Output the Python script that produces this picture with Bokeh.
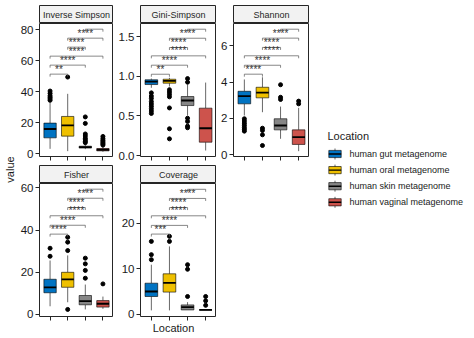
import numpy as np
from bokeh.plotting import figure
from bokeh.layouts import row, column
from bokeh.models import Range1d, FixedTicker, ColumnDataSource
from bokeh.core.properties import value
from bokeh.embed import file_html
from bokeh.resources import INLINE

# ---------------- data ----------------
locations = ["human gut metagenome", "human oral metagenome",
             "human skin metagenome", "human vaginal metagenome"]
colors = ["#0073C2", "#EFC000", "#868686", "#CD534C"]
comparisons = [(0, 1), (0, 2), (0, 3), (1, 2), (1, 3), (2, 3)]

# Inverse Simpson
inv_q1 = [10.3, 11.4, 3.7, 1.9]
inv_med = [16.0, 18.3, 4.3, 2.6]
inv_q3 = [19.8, 24.1, 4.9, 3.4]
inv_lo = [3.2, 1.7, 3.0, 1.3]
inv_hi = [33.0, 38.7, 6.5, 4.9]
inv_out = [[34.5, 35.5, 36.5, 37.5, 39.0, 40.5], [49.5],
           [7.2, 8.0, 9.0, 10.0, 11.5, 12.8, 19.6, 23.8],
           [5.6, 6.3, 7.0, 7.8, 8.7, 9.8, 11.2]]
inv_brk = [51.4, 57.2, 63.0, 68.8, 74.6, 80.4]
inv_sig = ["**", "****", "****", "****", "****", "****"]
inv_ticks = [0, 20, 40, 60, 80]
inv_labels = ["0", "20", "40", "60", "80"]

# Gini-Simpson
gini_q1 = [0.895, 0.912, 0.630, 0.168]
gini_med = [0.933, 0.942, 0.694, 0.344]
gini_q3 = [0.955, 0.962, 0.744, 0.597]
gini_lo = [0.854, 0.870, 0.504, 0.063]
gini_hi = [0.971, 0.980, 0.895, 0.920]
gini_out = [[0.53, 0.56, 0.59, 0.62, 0.65, 0.68, 0.72, 0.75, 0.79],
            [0.21, 0.337, 0.60, 0.74, 0.77, 0.80, 0.83],
            [0.35, 0.37, 0.43, 0.47, 0.925, 0.97], []]
gini_brk = [1.025, 1.139, 1.257, 1.362, 1.479, 1.593]
gini_sig = ["**", "****", "****", "****", "****", "****"]
gini_ticks = [0.0, 0.5, 1.0, 1.5]
gini_labels = ["0.0", "0.5", "1.0", "1.5"]

# Shannon
sh_q1 = [2.80, 3.13, 1.37, 0.57]
sh_med = [3.22, 3.42, 1.61, 0.97]
sh_q3 = [3.49, 3.71, 1.98, 1.37]
sh_lo = [2.16, 2.34, 0.88, 0.20]
sh_hi = [4.14, 4.26, 2.65, 2.58]
sh_out = [[1.30, 1.40, 1.50, 1.62, 1.74, 1.86, 1.98], [0.51, 1.10, 1.34, 1.46],
          [3.04, 3.16, 3.85], [2.80, 2.95]]
sh_brk = [4.43, 4.92, 5.44, 5.90, 6.41, 6.90]
sh_sig = ["****", "****", "****", "****", "****", "****"]
sh_ticks = [0, 2, 4, 6]
sh_labels = ["0", "2", "4", "6"]

# Fisher
fi_q1 = [10.3, 12.9, 4.6, 3.5]
fi_med = [12.9, 16.6, 6.3, 5.1]
fi_q3 = [16.7, 20.0, 9.0, 6.6]
fi_lo = [3.9, 5.8, 2.4, 2.7]
fi_hi = [25.6, 28.0, 14.2, 8.5]
fi_out = [[27.6, 31.4], [2.4, 30.3, 34.3, 36.6], [17.2, 20.9, 24.0, 26.7], [14.5]]
fi_brk = [38.1, 42.3, 46.8, 50.7, 55.1, 59.4]
fi_sig = ["****", "****", "****", "****", "****", "****"]
fi_ticks = [0, 20, 40, 60]
fi_labels = ["0", "20", "40", "60"]

# Coverage
cov_q1 = [3.94, 4.9, 1.0, 1.0]
cov_med = [5.03, 6.9, 1.6, 1.0]
cov_q3 = [6.85, 8.9, 2.1, 1.0]
cov_lo = [0.9, 0.9, 1.0, 1.0]
cov_hi = [10.9, 14.9, 2.7, 1.0]
cov_out = [[12.0, 13.1, 16.0], [16.0, 17.1], [3.94, 9.9, 10.9], [2.0, 3.0, 3.94]]
cov_brk = [17.6, 19.5, 21.6, 23.4, 25.4, 27.4]
cov_sig = ["***", "****", "****", "****", "****", "****"]
cov_ticks = [0, 10, 20]
cov_labels = ["0", "10", "20"]

# ---------------- style / layout ----------------
FONT = value("Liberation Sans")
FRAME_W = 76
FRAME_H = 133
STRIP_H = 18
DARK = "#262626"
SIG_LIFT = 5      # px between bracket line and label baseline
SIG_TEXT_H = 9    # px visual height above baseline needed for a label


def make_strip(title, left, top):
    s = figure(width=left + FRAME_W, height=STRIP_H + top,
               x_range=Range1d(0, 1), y_range=Range1d(0, 1),
               x_axis_type=None, y_axis_type=None,
               output_backend="svg", toolbar_location=None,
               min_border_left=left, min_border_right=0,
               min_border_top=top, min_border_bottom=0)
    s.background_fill_color = "#F2F2F2"
    s.border_fill_color = "white"
    s.outline_line_color = DARK
    s.outline_line_width = 1
    s.text(x=[0.5], y=[0.5], text=[title], text_font=FONT,
           text_font_size="9px", text_color=DARK,
           text_align="center", text_baseline="middle")
    return s


def make_panel(q1, med, q3, lo, hi, out, brk, sig, ticks, labels, yr, left, bottom):
    p = figure(width=left + FRAME_W, height=FRAME_H + bottom,
               x_range=Range1d(0.4, 4.6), y_range=Range1d(*yr),
               output_backend="svg", toolbar_location=None,
               min_border_left=left, min_border_right=0,
               min_border_top=0, min_border_bottom=bottom)
    p.grid.visible = False
    p.background_fill_color = "white"
    p.border_fill_color = "white"
    p.outline_line_color = DARK
    p.outline_line_width = 1

    xs = [i + 1 for i in range(len(locations))]
    src = ColumnDataSource(dict(x=xs, q1=q1, med=med, q3=q3, lo=lo, hi=hi,
                                color=colors,
                                x0=[x - 0.35 for x in xs], x1=[x + 0.35 for x in xs]))
    p.segment(x0="x", y0="q3", x1="x", y1="hi", source=src,
              line_color="black", line_width=0.6)
    p.segment(x0="x", y0="q1", x1="x", y1="lo", source=src,
              line_color="black", line_width=0.6)
    p.vbar(x="x", width=0.7, top="q3", bottom="q1", source=src,
           fill_color="color", line_color="black", line_width=0.6)
    p.segment(x0="x0", y0="med", x1="x1", y1="med", source=src,
              line_color="black", line_width=1.8)
    ox = [i + 1 for i, o in enumerate(out) for _ in o]
    oy = [v for o in out for v in o]
    p.scatter(ox, oy, size=4, color="black")

    # significance brackets
    span = yr[1] - yr[0]
    upp = span / FRAME_H          # data units per pixel
    tip = 2.5 * upp
    bx0, by0, bx1, by1 = [], [], [], []
    tx, ty, tt = [], [], []
    for (a, b), y, s in zip(comparisons, brk, sig):
        xa, xb = a + 1, b + 1
        bx0 += [xa, xa, xb]
        by0 += [y, y, y]
        bx1 += [xb, xa, xb]
        by1 += [y, y - tip, y - tip]
        # labels that would fall outside the panel are clipped away (as in the source)
        if y + (SIG_LIFT + SIG_TEXT_H) * upp <= yr[1]:
            tx.append((xa + xb) / 2)
            ty.append(y)
            tt.append(s)
    p.segment(x0=bx0, y0=by0, x1=bx1, y1=by1, line_color="#555555", line_width=0.7)
    p.text(x=tx, y=ty, text=tt, text_font=FONT, text_font_size="10px",
           text_color="#333333", text_align="center", text_baseline="alphabetic",
           y_offset=-SIG_LIFT)

    # axes
    p.xaxis.ticker = FixedTicker(ticks=xs)
    p.xaxis.major_label_overrides = {x: "" for x in xs}
    p.xaxis.major_label_text_font_size = "0px"
    p.xaxis.major_label_standoff = 0
    p.yaxis.ticker = FixedTicker(ticks=ticks)
    p.yaxis.major_label_overrides = {t: l for t, l in zip(ticks, labels)}
    p.yaxis.major_label_text_font_size = "11.5px"
    p.yaxis.major_label_text_font = "Liberation Sans"
    p.yaxis.major_label_text_color = "#1a1a1a"
    p.yaxis.major_label_standoff = 2
    for ax in (p.xaxis, p.yaxis):
        ax.axis_line_color = None
        ax.major_tick_in = 0
        ax.major_tick_out = 4
        ax.major_tick_line_color = DARK
        ax.major_tick_line_width = 1
        ax.minor_tick_line_color = None
    return p


panels = [
    ("Inverse Simpson", inv_q1, inv_med, inv_q3, inv_lo, inv_hi, inv_out, inv_brk, inv_sig,
     inv_ticks, inv_labels, (-1.74, 84.06)),
    ("Gini-Simpson", gini_q1, gini_med, gini_q3, gini_lo, gini_hi, gini_out, gini_brk, gini_sig,
     gini_ticks, gini_labels, (-0.0126, 1.665)),
    ("Shannon", sh_q1, sh_med, sh_q3, sh_lo, sh_hi, sh_out, sh_brk, sh_sig,
     sh_ticks, sh_labels, (-0.093, 7.214)),
    ("Fisher", fi_q1, fi_med, fi_q3, fi_lo, fi_hi, fi_out, fi_brk, fi_sig,
     fi_ticks, fi_labels, (-0.95, 62.09)),
    ("Coverage", cov_q1, cov_med, cov_q3, cov_lo, cov_hi, cov_out, cov_brk, cov_sig,
     cov_ticks, cov_labels, (-0.44, 28.67)),
]
lefts = [20, 27, 17, 20, 27]
strip_tops = [5, 5, 5, 0, 0]
bottoms = [9, 9, 9, 5, 5]

cols = []
for (title, *rest), left, top, bottom in zip(panels, lefts, strip_tops, bottoms):
    *stats, yr = rest
    strip = make_strip(title, left, top)
    panel = make_panel(*stats, yr, left, bottom)
    cols.append(column(strip, panel, spacing=0))

row1 = row(cols[0], cols[1], cols[2], spacing=0)
row2 = row(cols[3], cols[4], spacing=0)

# x-axis title
xlab = figure(width=292, height=17, x_range=Range1d(0, 292), y_range=Range1d(0, 17),
              x_axis_type=None, y_axis_type=None, output_backend="svg",
              toolbar_location=None, min_border=0)
xlab.outline_line_color = None
xlab.text(x=[156], y=[10.5], text=["Location"], text_font=FONT, text_font_size="11px",
          text_color="#1a1a1a", text_align="center", text_baseline="middle")

# y-axis title
ylab = figure(width=17, height=338, x_range=Range1d(0, 17), y_range=Range1d(0, 338),
              x_axis_type=None, y_axis_type=None, output_backend="svg",
              toolbar_location=None, min_border=0)
ylab.outline_line_color = None
ylab.text(x=[9.5], y=[338 - 169], text=["value"], angle=np.pi / 2, text_font=FONT,
          text_font_size="11px", text_color="#1a1a1a", text_align="center",
          text_baseline="middle")

# legend
LW = 165
leg = figure(width=LW, height=338, x_range=Range1d(0, LW), y_range=Range1d(0, 338),
             x_axis_type=None, y_axis_type=None, output_backend="svg",
             toolbar_location=None, min_border=0)
leg.outline_line_color = None
leg.text(x=[18], y=[338 - 135], text=["Location"], text_font=FONT, text_font_size="11px",
         text_color="#1a1a1a", text_align="left", text_baseline="middle")
yc = [338 - (153.5 + 16.1 * i) for i in range(len(locations))]
kx = 25.5
leg.segment(x0=[kx] * 4, y0=[y - 5.5 for y in yc], x1=[kx] * 4, y1=[y + 5.5 for y in yc],
            line_color="black", line_width=0.6)
leg.quad(left=[kx - 6.2] * 4, right=[kx + 6.2] * 4, bottom=[y - 3.6 for y in yc],
         top=[y + 3.6 for y in yc], fill_color=colors, line_color="black", line_width=0.6)
leg.segment(x0=[kx - 6.2] * 4, y0=yc, x1=[kx + 6.2] * 4, y1=yc, line_color="black",
            line_width=1.4)
leg.text(x=[40] * 4, y=yc, text=locations, text_font=FONT, text_font_size="9px",
         text_color="#1a1a1a", text_align="left", text_baseline="middle")

layout = row(ylab, column(row1, row2, xlab, spacing=0), leg, spacing=0)

open("out.html", "w").write(file_html(layout, INLINE))
